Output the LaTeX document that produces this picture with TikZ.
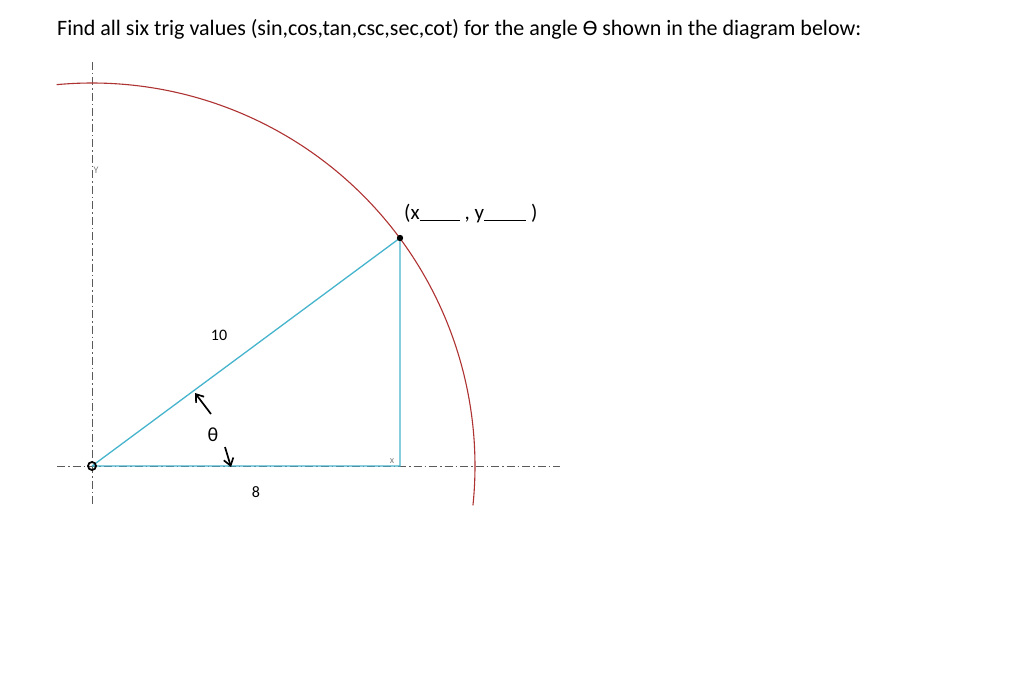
\documentclass[tikz,border=0pt]{standalone}
\usepackage{fontspec}
\setmainfont{Carlito}
\usetikzlibrary{arrows.meta}
\definecolor{cyanline}{RGB}{70,180,205}
\definecolor{arcred}{RGB}{175,50,50}
\definecolor{axisgray}{RGB}{90,90,90}
\tikzset{
  axisline/.style={axisgray,line width=0.8pt,dash pattern=on 8pt off 3pt on 1.5pt off 3pt},
  tri/.style={cyanline,line width=1.3pt},
  lbl/.style={inner sep=0pt,font=\fontsize{16}{19}\selectfont},
  smalllbl/.style={inner sep=0pt,text=gray,font=\fontsize{10}{12}\selectfont},
  thetaarrow/.style={line width=1.7pt,-{Straight Barb[length=7pt,width=10pt]}},
}
\begin{document}
\begin{tikzpicture}[x=1pt,y=-1pt]
\useasboundingbox[fill=white] (0,0) rectangle (1035,676);
\node[anchor=base west,inner sep=0pt,font=\fontsize{22}{26}\selectfont] (title) at (57,36) {Find all six trig values (sin,cos,tan,csc,sec,cot) for the angle Ɵ shown in the diagram below:};
\coordinate (O) at (92,466);
\coordinate (P) at (400,238);
\coordinate (F) at (400,466);
\coordinate (vt) at (92,62);
\coordinate (vb) at (92,506);
\coordinate (hl) at (57,466);
\coordinate (hr) at (560,466);
\draw[axisline] (vt) -- (vb);
\draw[axisline] (hl) -- (hr);
\draw[arcred,line width=1.1pt] (O) ++(-95.3:383) arc[start angle=-95.3,end angle=5.9,radius=383];
\draw[tri] (O) -- (P) -- (F) -- (O);
\fill (P) circle (3.2);
\draw[line width=1.8pt] (O) circle (4);
\node[smalllbl] (ylab) at (96,170) {Y};
\node[smalllbl] (xlab) at (392,461) {x};
\node[lbl] (ten) at (219,335) {10};
\node[lbl] (eight) at (256,492) {8};
\node[lbl,font=\fontsize{20}{22}\selectfont] (th) at (213,435) {θ};
\coordinate (a1s) at (211,414);
\coordinate (a1e) at (195,393);
\coordinate (a2s) at (225,447);
\coordinate (a2e) at (231,467);
\draw[thetaarrow] (a1s) -- (a1e);
\draw[thetaarrow] (a2s) -- (a2e);
\node[lbl,font=\fontsize{21}{24}\selectfont,anchor=base west] (pt) at (404,220) {(x\rule[-1pt]{40pt}{1.4pt}\hspace{5pt}, y\rule[-1pt]{42pt}{1.4pt}\hspace{5pt})};
\end{tikzpicture}
\end{document}
